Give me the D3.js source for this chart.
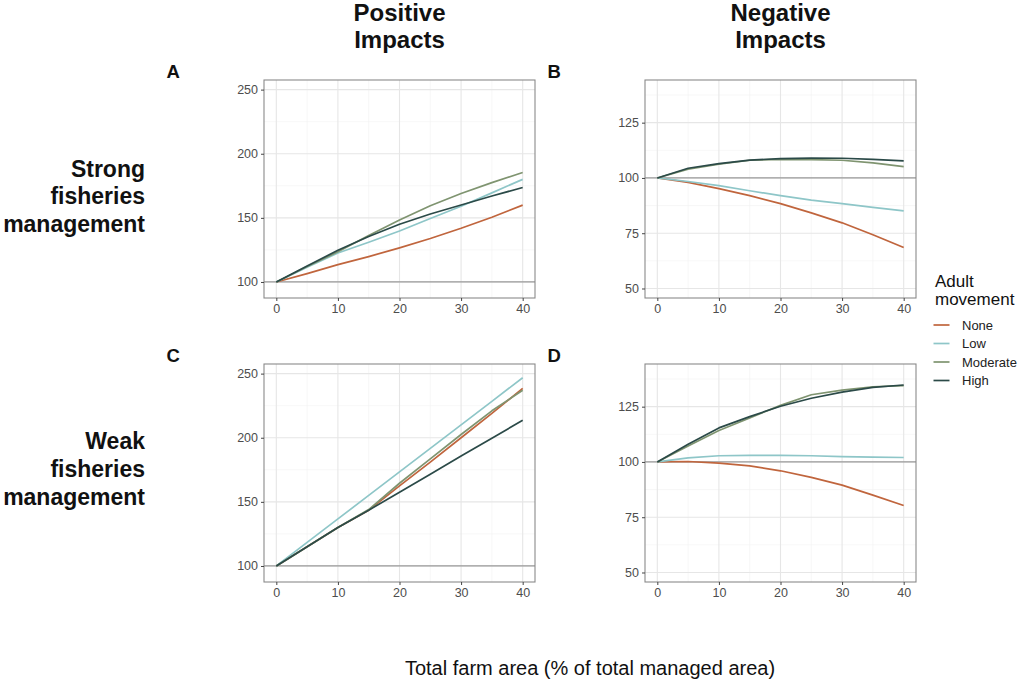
<!DOCTYPE html>
<html>
<head>
<meta charset="utf-8">
<script src="https://cdn.jsdelivr.net/npm/d3@7"></script>
<style>
  body { margin: 0; background: #fff; }
  svg { font-family: "Liberation Sans", Arial, sans-serif; }
</style>
</head>
<body>
<svg id="chart" width="1024" height="685"></svg>
<script>
var farmArea = [0, 5, 10, 15, 20, 25, 30, 35, 40];
var movementLevels = ["None", "Low", "Moderate", "High"];
var movementColors = ["#c0653d", "#8ec6c8", "#7f9470", "#2b4a48"];

// A: strong management, positive impacts
var strongPositive = {
  None:     [100, 106.5, 113.5, 119.8, 126.6, 133.9, 141.9, 150.5, 159.9],
  Low:      [100, 111.5, 122.6, 131.0, 139.8, 149.5, 159.0, 169.5, 180.0],
  Moderate: [100, 112.0, 123.5, 136.3, 148.3, 159.5, 169.0, 177.5, 185.4],
  High:     [100, 112.5, 124.7, 135.5, 145.0, 153.0, 160.0, 167.0, 173.7]
};
// B: strong management, negative impacts
var strongNegative = {
  None:     [100, 98.0, 95.2, 92.0, 88.4, 84.2, 79.7, 74.3, 68.5],
  Low:      [100, 98.4, 96.5, 94.2, 92.0, 90.0, 88.4, 86.7, 85.1],
  Moderate: [100, 104.0, 106.2, 108.0, 108.4, 108.3, 108.0, 106.8, 105.1],
  High:     [100, 104.4, 106.5, 108.1, 108.7, 109.0, 108.9, 108.4, 107.7]
};
// C: weak management, positive impacts
var weakPositive = {
  None:     [100, 115.0, 130.0, 143.5, 162.5, 181.0, 200.0, 219.0, 238.5],
  Low:      [100, 118.4, 136.7, 155.0, 173.4, 191.7, 210.0, 228.4, 246.8],
  Moderate: [100, 115.0, 130.0, 144.0, 164.5, 183.5, 202.5, 221.0, 237.0],
  High:     [100, 115.0, 130.0, 143.5, 157.5, 171.5, 185.7, 199.6, 213.6]
};
// D: weak management, negative impacts
var weakNegative = {
  None:     [100, 100.2, 99.5, 98.2, 96.0, 93.0, 89.5, 85.0, 80.3],
  Low:      [100, 101.8, 102.8, 103.0, 103.0, 102.8, 102.4, 102.2, 102.0],
  Moderate: [100, 107.2, 114.2, 119.9, 125.6, 130.4, 132.5, 134.0, 134.5],
  High:     [100, 108.0, 115.4, 120.5, 125.2, 128.8, 131.6, 133.7, 134.8]
};

var xTicks = [0, 10, 20, 30, 40];
var xMinor = [5, 15, 25, 35];
var posTicks = [100, 150, 200, 250];
var posMinor = [125, 175, 225];
var negTicks = [50, 75, 100, 125];
var negMinor = [62.5, 87.5, 112.5, 137.5];

var columnTitles = [["Positive", "Impacts"], ["Negative", "Impacts"]];
var rowTitles = [["Strong", "fisheries", "management"], ["Weak", "fisheries", "management"]];

var svg = d3.select("#chart");
var panelW = 271, panelH = 218;
var lefts = [264, 645], tops = [80, 364];

var panels = [
  { letter: "A", col: 0, row: 0, data: strongPositive, domain: [87.5, 257.5], ticks: posTicks, minor: posMinor },
  { letter: "B", col: 1, row: 0, data: strongNegative, domain: [45.7, 144.3], ticks: negTicks, minor: negMinor },
  { letter: "C", col: 0, row: 1, data: weakPositive, domain: [87.5, 257.5], ticks: posTicks, minor: posMinor },
  { letter: "D", col: 1, row: 1, data: weakNegative, domain: [45.7, 144.3], ticks: negTicks, minor: negMinor }
];

var x = d3.scaleLinear().domain([-2, 42]).range([0, panelW]);

panels.forEach(function (p) {
  var g = svg.append("g")
    .attr("transform", "translate(" + lefts[p.col] + "," + tops[p.row] + ")");
  var y = d3.scaleLinear().domain(p.domain).range([panelH, 0]);

  // grid
  g.selectAll(".minorx").data(xMinor).enter().append("line")
    .attr("x1", x).attr("x2", x).attr("y1", 0).attr("y2", panelH)
    .attr("stroke", "#f2f2f2").attr("stroke-width", 0.6);
  g.selectAll(".minory").data(p.minor).enter().append("line")
    .attr("y1", y).attr("y2", y).attr("x1", 0).attr("x2", panelW)
    .attr("stroke", "#f2f2f2").attr("stroke-width", 0.6);
  g.selectAll(".majorx").data(xTicks).enter().append("line")
    .attr("x1", x).attr("x2", x).attr("y1", 0).attr("y2", panelH)
    .attr("stroke", "#e6e6e6").attr("stroke-width", 1.1);
  g.selectAll(".majory").data(p.ticks).enter().append("line")
    .attr("y1", y).attr("y2", y).attr("x1", 0).attr("x2", panelW)
    .attr("stroke", "#e6e6e6").attr("stroke-width", 1.1);

  // reference line at 100
  g.append("line")
    .attr("x1", 0).attr("x2", panelW).attr("y1", y(100)).attr("y2", y(100))
    .attr("stroke", "#9a9a9a").attr("stroke-width", 1.3);

  var line = d3.line()
    .x(function (d, i) { return x(farmArea[i]); })
    .y(function (d) { return y(d); });

  movementLevels.forEach(function (level, i) {
    g.append("path")
      .datum(p.data[level])
      .attr("d", line)
      .attr("fill", "none")
      .attr("stroke", movementColors[i])
      .attr("stroke-width", 1.7)
      .attr("stroke-linejoin", "round");
  });

  g.append("rect")
    .attr("width", panelW).attr("height", panelH)
    .attr("fill", "none").attr("stroke", "#8a8a8a").attr("stroke-width", 1.1);

  var xAxis = g.append("g").attr("transform", "translate(0," + panelH + ")")
    .call(d3.axisBottom(x).tickValues(xTicks).tickSize(3).tickPadding(3));
  var yAxis = g.append("g")
    .call(d3.axisLeft(y).tickValues(p.ticks).tickSize(3).tickPadding(3));
  [xAxis, yAxis].forEach(function (a) {
    a.select(".domain").remove();
    a.selectAll("line").attr("stroke", "#444");
    a.selectAll("text").attr("fill", "#4d4d4d")
      .style("font-size", "12.5px").style("font-family", "'Liberation Sans', Arial, sans-serif");
  });

  svg.append("text")
    .attr("x", lefts[p.col] - 97.5).attr("y", tops[p.row] - 1.8)
    .attr("font-size", 18.5).attr("font-weight", "bold").attr("fill", "#111")
    .text(p.letter);
});

// column titles
columnTitles.forEach(function (lines, c) {
  lines.forEach(function (t, j) {
    svg.append("text")
      .attr("x", lefts[c] + panelW / 2).attr("y", 20.7 + j * 27.6)
      .attr("text-anchor", "middle").attr("font-size", 24).attr("font-weight", "bold")
      .attr("fill", "#111").text(t);
  });
});

// row titles
var rowBase = [176.7, 449.3];
rowTitles.forEach(function (lines, r) {
  lines.forEach(function (t, j) {
    svg.append("text")
      .attr("x", 145).attr("y", rowBase[r] + j * 27.6)
      .attr("text-anchor", "end").attr("font-size", 23).attr("font-weight", "bold")
      .attr("fill", "#111").text(t);
  });
});

// x axis title
svg.append("text")
  .attr("x", 590).attr("y", 675)
  .attr("text-anchor", "middle").attr("font-size", 20).attr("fill", "#111")
  .text("Total farm area (% of total managed area)");

// legend
var legend = svg.append("g").attr("transform", "translate(935,0)");
legend.append("text").attr("x", 0).attr("y", 286.7).attr("font-size", 17).attr("fill", "#111").text("Adult");
legend.append("text").attr("x", 0).attr("y", 305).attr("font-size", 17).attr("fill", "#111").text("movement");
var keyY = [325, 343.5, 362, 380.5];
movementLevels.forEach(function (level, i) {
  legend.append("line")
    .attr("x1", -1.5).attr("x2", 14.5).attr("y1", keyY[i]).attr("y2", keyY[i])
    .attr("stroke", movementColors[i]).attr("stroke-width", 1.7);
  legend.append("text")
    .attr("x", 27).attr("y", keyY[i]).attr("dy", "0.35em")
    .attr("font-size", 13).attr("fill", "#222").text(level);
});
</script>
</body>
</html>
